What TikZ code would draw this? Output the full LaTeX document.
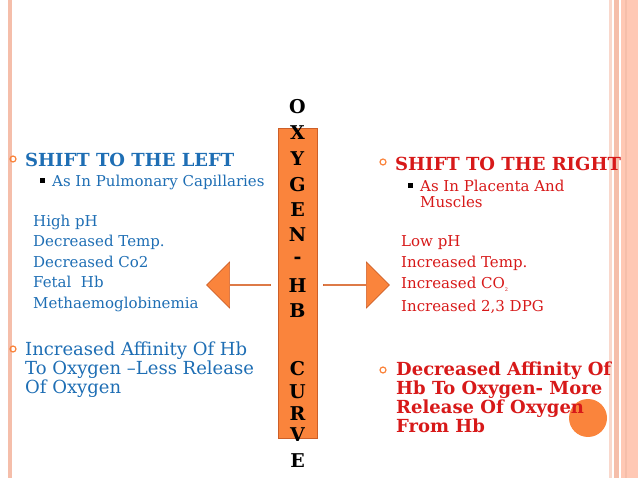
\documentclass[tikz,border=0pt]{standalone}
\usepackage{fontspec}
\setmainfont{DejaVu Serif}
\usetikzlibrary{shapes.arrows}
\definecolor{bl}{RGB}{30,110,180}
\definecolor{rd}{RGB}{215,25,25}
\definecolor{org}{RGB}{250,132,60}
\definecolor{orgd}{RGB}{205,95,40}
\definecolor{pk}{RGB}{245,190,170}
\definecolor{sal}{RGB}{255,200,180}
\tikzset{
  ring/.style={circle,draw=org,line width=1.2pt,minimum size=6pt,inner sep=0pt},
  sq/.style={rectangle,fill=black,minimum size=5pt,inner sep=0pt},
  txt/.style={anchor=base west,inner sep=0pt,font=\fontsize{15}{17}\selectfont},
  big/.style={anchor=north west,inner sep=0pt,align=left},
  letter/.style={inner sep=0pt,font=\fontsize{19}{19}\selectfont\bfseries},
  fat/.style={single arrow,fill=org,draw=orgd,line width=0.6pt,minimum width=46pt,single arrow head extend=10pt,inner sep=0pt,single arrow head indent=0pt}
}
\begin{document}
\begin{tikzpicture}[x=1pt,y=-1pt]
\useasboundingbox (0,0) rectangle (638,478);
% borders
\fill[pk] (8,0) rectangle (12,478);
\fill[pk!60] (609,0) rectangle (612,478);
\fill[pk] (614,0) rectangle (619,478);
\fill[sal] (621,0) rectangle (638,478);
\fill[pk] (625,0) rectangle (627,478);
\fill[org] (588,418) circle (19);
% center box
\node[draw=orgd,fill=org,minimum width=39pt,minimum height=310pt,inner sep=0pt] (box) at (297.5,283) {};
\foreach \l/\y [count=\i] in {O/107,X/133,Y/159,G/185,E/210,N/235,-/260,H/286,B/311,C/369,U/392,R/414,V/435,E/461}
  \node[letter] (l\i) at (297.5,\y) {\l};
% arrows
\node[fat,shape border rotate=180,minimum height=64pt] (la) at (239,285) {};
\node[fat,minimum height=66pt] (ra) at (356,285) {};
% left
\node[ring] (b1) at (13,159) {};
\node[txt,text=bl,font=\fontsize{18}{20}\selectfont\bfseries] (h1) at (25,167) {SHIFT TO THE LEFT};
\node[sq] (s1) at (42,181) {};
\node[txt,text=bl] (p1) at (52,187) {As In Pulmonary Capillaries};
\node[txt,text=bl] (a1) at (33,227) {High pH};
\node[txt,text=bl] (a2) at (33,247) {Decreased Temp.};
\node[txt,text=bl] (a3) at (33,268) {Decreased Co2};
\node[txt,text=bl] (a4) at (33,288) {Fetal\ \ Hb};
\node[txt,text=bl] (a5) at (33,309) {Methaemoglobinemia};
\node[ring] (b2) at (13,349) {};
\node[big,text=bl,font=\fontsize{18}{19}\selectfont] (c1) at (25,342) {Increased Affinity Of Hb\\To Oxygen --Less Release\\Of Oxygen};
% right
\node[ring] (b3) at (383,162) {};
\node[txt,text=rd,font=\fontsize{18}{20}\selectfont\bfseries] (h2) at (395,171) {SHIFT TO THE RIGHT};
\node[sq] (s2) at (410,186) {};
\node[big,text=rd,font=\fontsize{15}{16}\selectfont] (p2) at (420,180) {As In Placenta And\\Muscles};
\node[txt,text=rd] (r1) at (401,247) {Low pH};
\node[txt,text=rd] (r2) at (401,268) {Increased Temp.};
\node[txt,text=rd] (r3) at (401,289) {Increased CO\textsubscript{\tiny 2}};
\node[txt,text=rd] (r4) at (401,312) {Increased 2,3 DPG};
\node[ring] (b4) at (383,370) {};
\node[big,text=rd,font=\fontsize{18}{19}\selectfont\bfseries] (c2) at (396,362) {Decreased Affinity Of\\Hb To Oxygen- More\\Release Of Oxygen\\From Hb};
\end{tikzpicture}
\end{document}
